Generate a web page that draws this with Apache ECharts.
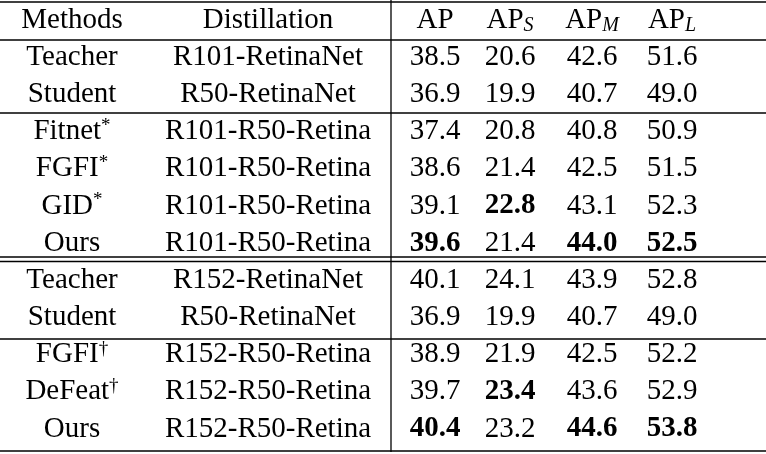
<!DOCTYPE html>
<html>
<head>
<meta charset="utf-8">
<script src="https://cdn.jsdelivr.net/npm/echarts@6/dist/echarts.min.js"></script>
<style>html,body{margin:0;padding:0;background:#fff}#main{width:766px;height:454px}</style>
</head>
<body>
<div id="main"></div>
<script>
// table content
const headers = ['Methods', 'Distillation', 'AP', 'AP_S', 'AP_M', 'AP_L'];
const methods = ['Teacher', 'Student', 'Fitnet*', 'FGFI*', 'GID*', 'Ours', 'Teacher', 'Student', 'FGFI†', 'DeFeat†', 'Ours'];
const distill = ['R101-RetinaNet', 'R50-RetinaNet', 'R101-R50-Retina', 'R101-R50-Retina', 'R101-R50-Retina', 'R101-R50-Retina',
  'R152-RetinaNet', 'R50-RetinaNet', 'R152-R50-Retina', 'R152-R50-Retina', 'R152-R50-Retina'];
const ap  = [38.5, 36.9, 37.4, 38.6, 39.1, 39.6, 40.1, 36.9, 38.9, 39.7, 40.4];
const apS = [20.6, 19.9, 20.8, 21.4, 22.8, 21.4, 24.1, 19.9, 21.9, 23.4, 23.2];
const apM = [42.6, 40.7, 40.8, 42.5, 43.1, 44.0, 43.9, 40.7, 42.5, 43.6, 44.6];
const apL = [51.6, 49.0, 50.9, 51.5, 52.3, 52.5, 52.8, 49.0, 52.2, 52.9, 53.8];
// bold cells: [row, col]
const bold = [[4, 3], [5, 2], [5, 4], [5, 5], [9, 3], [10, 2], [10, 4], [10, 5]];

const colX = [72, 268, 435, 510, 592, 672];
const font = 'Liberation Serif';

function fmt(col, text, isHead, isBold) {
  if (isHead && col >= 3) {
    return '{n|AP}{s|' + text.split('_')[1] + '}';
  }
  if (col === 0 && /[*†]$/.test(text)) {
    return '{n|' + text.slice(0, -1) + '}{p|' + text.slice(-1) + '}';
  }
  return (isBold ? '{b|' : '{n|') + text + '}';
}

const cells = [];
headers.forEach((h, c) => cells.push([c, 0, h, 1, 0]));
for (let r = 0; r < methods.length; r++) {
  const row = [methods[r], distill[r], ap[r].toFixed(1), apS[r].toFixed(1), apM[r].toFixed(1), apL[r].toFixed(1)];
  row.forEach((t, c) => {
    const b = bold.some(x => x[0] === r && x[1] === c) ? 1 : 0;
    cells.push([c, r + 1, t, 0, b]);
  });
}

const rowNames = ['h'].concat(methods.map((m, i) => 'r' + i));
const chart = echarts.init(document.getElementById('main'));
const line = (y) => ({ type: 'line', shape: { x1: 0, y1: y, x2: 766, y2: y }, style: { stroke: '#000', lineWidth: 1.3 } });

chart.setOption({
  animation: false,
  grid: { left: 0, right: 0, top: 1.5, height: 446 },
  xAxis: { type: 'value', min: 0, max: 766, show: false },
  yAxis: { type: 'category', data: rowNames, inverse: true, show: false },
  series: [{
    type: 'custom',
    data: cells,
    renderItem: function (params, api) {
      const c = api.value(0);
      const p = api.coord([colX[c], api.value(1)]);
      const d = cells[params.dataIndex];
      return {
        type: 'text',
        x: p[0], y: p[1],
        style: {
          text: fmt(c, d[2], d[3], d[4]),
          align: 'center', verticalAlign: 'middle',
          fill: '#000',
          rich: {
            n: { fontFamily: font, fontSize: 29, fill: '#000' },
            b: { fontFamily: font, fontSize: 29, fontWeight: 'bold', fill: '#000' },
            s: { fontFamily: font, fontSize: 20, fontStyle: 'italic', fill: '#000', padding: [12, 0, 0, 0] },
            p: { fontFamily: font, fontSize: 19, fill: '#000', padding: [0, 0, 12, 0] }
          }
        }
      };
    }
  }],
  graphic: [
    line(2), line(40), line(113), line(257), line(261.5), line(339), line(451),
    { type: 'line', shape: { x1: 391, y1: 0, x2: 391, y2: 452 }, style: { stroke: '#000', lineWidth: 1.3 } }
  ]
});
</script>
</body>
</html>
